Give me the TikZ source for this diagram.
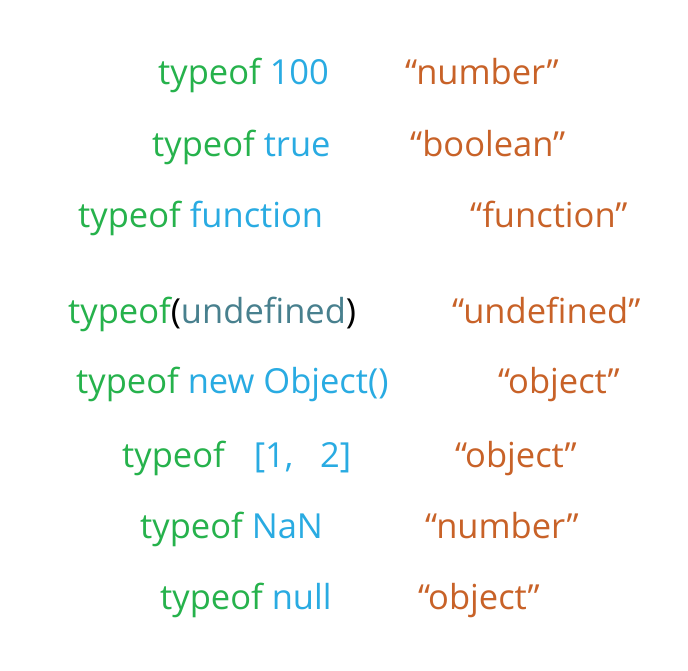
\documentclass[tikz,border=0pt]{standalone}
\usepackage{fontspec}
\setmainfont{Open Sans}
\definecolor{kwgreen}{RGB}{38,178,76}
\definecolor{valblue}{RGB}{41,171,226}
\definecolor{resorange}{RGB}{200,98,40}
\definecolor{undefteal}{RGB}{72,128,142}
\begin{document}
\begin{tikzpicture}[x=1pt,y=-1pt,
  expr/.style={anchor=base west,inner sep=0pt,font=\fontsize{34.5}{38}\selectfont,text=kwgreen},
  res/.style={anchor=base west,inner sep=0pt,font=\fontsize{34.5}{38}\selectfont,text=resorange}]
\useasboundingbox[fill=white] (0,0) rectangle (688,671);
\node[expr] (e1) at (158,85) {typeof \textcolor{valblue}{100}};
\node[res]  (r1) at (405,85) {“number”};
\node[expr] (e2) at (152,157) {typeof \textcolor{valblue}{true}};
\node[res]  (r2) at (410,157) {“boolean”};
\node[expr] (e3) at (78,228) {typeof \textcolor{valblue}{function}};
\node[res]  (r3) at (470,228) {“function”};
\node[expr] (e4) at (68,323) {typeof\textcolor{black}{(}\textcolor{undefteal}{undefined}\textcolor{black}{)}};
\node[res]  (r4) at (452,323) {“undefined”};
\node[expr] (e5) at (76,393) {typeof \textcolor{valblue}{new Object()}};
\node[res]  (r5) at (498,393) {“object”};
\node[expr] (e6) at (122,467) {typeof\hspace{29pt}\textcolor{valblue}{[1, \ \ 2]}};
\node[res]  (r6) at (455,467) {“object”};
\node[expr] (e7) at (140,538) {typeof \textcolor{valblue}{NaN}};
\node[res]  (r7) at (425,538) {“number”};
\node[expr] (e8) at (160,609) {typeof \textcolor{valblue}{null}};
\node[res]  (r8) at (418,609) {“object”};
\end{tikzpicture}
\end{document}
